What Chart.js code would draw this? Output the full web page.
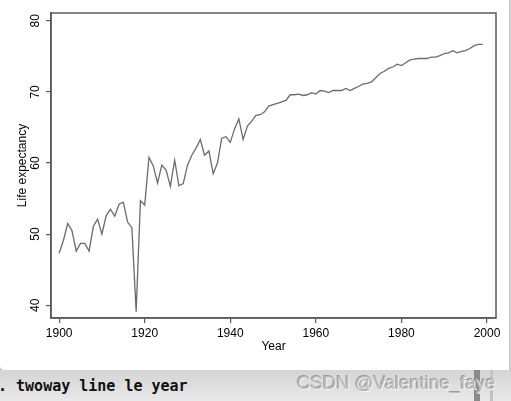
<!DOCTYPE html>
<html>
<head>
<meta charset="utf-8">
<script src="https://cdn.jsdelivr.net/npm/chart.js@4"></script>
<style>
  html, body { margin: 0; padding: 0; background: #dcdcdc; }
  #wrap { position: relative; width: 511px; height: 401px; overflow: hidden; }
  #panel { position: absolute; left: 0; top: 0; width: 509px; height: 370px; background: #fff;
           border-right: 1px solid #c8c8c8; border-bottom-left-radius: 4px;
           box-shadow: 0 1px 2px rgba(0,0,0,0.25); }
  #band { position: absolute; left: 0; top: 370px; width: 511px; height: 31px;
          background: linear-gradient(#d4d4d4, #e8e8e8); }
  #cmd { position: absolute; left: -2px; top: 7px; font: bold 15px "DejaVu Sans Mono", monospace; color: #111; }
  #mark { position: absolute; left: 297px; top: 2px; font: 18.6px "Liberation Sans", Arial, sans-serif;
          color: #bdbdbd; text-shadow: 1px 1px 0 #f4f4f4, -1px -1px 0 #9a9a9a; }
  #bar1 { position: absolute; left: 474px; top: 0; width: 6px; height: 31px; background: #8a8a8a; }
  #bar2 { position: absolute; left: 490px; top: 0; width: 3px; height: 31px; background: #c2c2c2; }
</style>
</head>
<body>
<div id="wrap">
  <div id="panel"><canvas id="chart" width="509" height="370"></canvas></div>
  <div id="band">
    <div id="bar1"></div><div id="bar2"></div>
    <div id="cmd">. twoway line le year</div>
    <div id="mark">CSDN @Valentine_faye</div>
  </div>
</div>
<script>
// US life expectancy, 1900-1999
var years = [];
for (var y = 1900; y <= 1999; y++) years.push(y);

var lifeExp = [
  47.3, 49.1, 51.5, 50.5, 47.6, 48.7, 48.7, 47.6, 51.1, 52.1,
  50.0, 52.6, 53.5, 52.5, 54.2, 54.5, 51.7, 50.9, 39.1, 54.7,
  54.1, 60.8, 59.6, 57.2, 59.7, 59.0, 56.7, 60.4, 56.8, 57.1,
  59.7, 61.1, 62.1, 63.3, 61.1, 61.7, 58.5, 60.0, 63.5, 63.7,
  62.9, 64.8, 66.2, 63.3, 65.2, 65.9, 66.7, 66.8, 67.2, 68.0,
  68.2, 68.4, 68.6, 68.8, 69.6, 69.6, 69.7, 69.5, 69.6, 69.9,
  69.7, 70.2, 70.1, 69.9, 70.2, 70.2, 70.2, 70.5, 70.2, 70.5,
  70.8, 71.1, 71.2, 71.4, 72.0, 72.6, 72.9, 73.3, 73.5, 73.9,
  73.7, 74.1, 74.5, 74.6, 74.7, 74.7, 74.7, 74.9, 74.9, 75.1,
  75.4, 75.5, 75.8, 75.5, 75.7, 75.8, 76.1, 76.5, 76.7, 76.7
];

var xTicks = [1900, 1920, 1940, 1960, 1980, 2000];
var yTicks = [40, 50, 60, 70, 80];

var axisColor = "#5a5a5a";
var tickFont = { family: "'Liberation Sans', Arial, sans-serif", size: 12 };

// draws the box round the plot region
var framePlugin = {
  id: "frame",
  afterDraw: function (chart) {
    var a = chart.chartArea;
    var ctx = chart.ctx;
    ctx.save();
    ctx.strokeStyle = axisColor;
    ctx.lineWidth = 1.5;
    ctx.strokeRect(a.left, a.top, a.right - a.left, a.bottom - a.top);
    ctx.restore();
  }
};

var points = years.map(function (yr, i) { return { x: yr, y: lifeExp[i] }; });

new Chart(document.getElementById("chart"), {
  type: "line",
  data: {
    datasets: [{
      data: points,
      borderColor: "#6b6b6b",
      borderWidth: 1.3,
      pointRadius: 0,
      tension: 0,
      fill: false
    }]
  },
  options: {
    responsive: false,
    animation: false,
    layout: { padding: { left: 0, top: 13, right: 13, bottom: 0 } },
    plugins: { legend: { display: false }, tooltip: { enabled: false } },
    scales: {
      x: {
        type: "linear",
        min: 1898.1,
        max: 2002.1,
        afterBuildTicks: function (scale) {
          scale.ticks = xTicks.map(function (v) { return { value: v }; });
        },
        afterFit: function (scale) { scale.height = 52; },
        grid: { drawOnChartArea: false, drawTicks: true, tickLength: 5, color: axisColor, lineWidth: 1.2 },
        border: { display: true, color: axisColor, width: 1.5 },
        ticks: { color: "#000", font: tickFont, padding: 3, maxRotation: 0,
                 callback: function (v) { return String(v); } },
        title: { display: true, text: "Year", color: "#000", font: tickFont, padding: { top: 0, bottom: 16 } }
      },
      y: {
        min: 38.2,
        max: 81.1,
        afterBuildTicks: function (scale) {
          scale.ticks = yTicks.map(function (v) { return { value: v }; });
        },
        afterFit: function (scale) { scale.width = 51; },
        grid: { drawOnChartArea: false, drawTicks: true, tickLength: 5, color: axisColor, lineWidth: 1.2 },
        border: { display: true, color: axisColor, width: 1.5 },
        ticks: { color: "#000", font: tickFont, padding: 4, minRotation: 90, maxRotation: 90,
                 crossAlign: "center", callback: function (v) { return String(v); } },
        title: { display: true, text: "Life expectancy", color: "#000", font: tickFont, padding: { top: 15, bottom: 0 } }
      }
    }
  },
  plugins: [framePlugin]
});
</script>
</body>
</html>
